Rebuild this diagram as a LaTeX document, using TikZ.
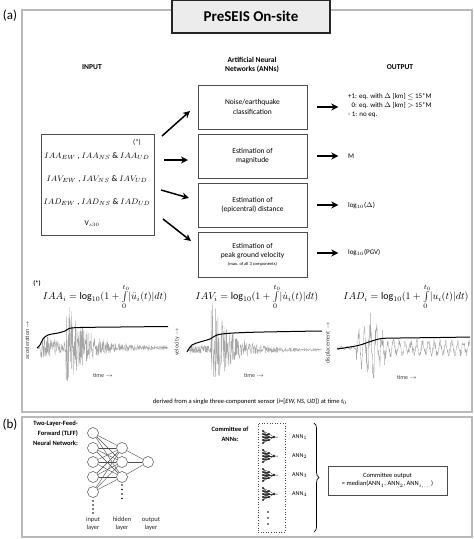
\documentclass[tikz,border=0pt]{standalone}
\usepackage{fontspec}
\setmainfont{Carlito}
\usetikzlibrary{arrows.meta,decorations.pathreplacing}
\begin{document}
\begin{tikzpicture}[x=1pt,y=-1pt,
  frame/.style={draw=gray!55, line width=1.6pt},
  annbox/.style={draw=gray!60!black, line width=0.6pt, minimum width=109pt, minimum height=44pt, align=center, inner sep=1pt, font=\fontsize{7.5}{9.5}\selectfont},
  bigarrow/.style={-{Stealth[length=7pt,width=7pt]}, line width=1.5pt},
  head/.style={font=\bfseries\fontsize{7.5}{9}\selectfont, align=center},
  outtxt/.style={anchor=west, align=left, font=\fontsize{7}{9}\selectfont, inner sep=0pt},
  formula/.style={font=\fontsize{10}{12}\selectfont, inner sep=0pt},
  axlab/.style={font=\rmfamily\fontsize{6}{7}\selectfont, text=gray!50!black, inner sep=0pt},
  wave/.style={draw=gray!70, line width=0.35pt},
  cum/.style={draw=black, line width=1pt},
  neuron/.style={circle, draw=gray!60!black, line width=0.5pt, minimum size=11pt, inner sep=0pt},
  syn/.style={draw=gray!60!black, line width=0.4pt},
  dotn/.style={circle, fill=black, minimum size=1.8pt, inner sep=0pt},
  small/.style={font=\fontsize{6.5}{8}\selectfont, align=center, text=gray!30!black},
  declare function={
    envA(\t)=1.2+(\t>40)*12*exp(-(\t-40)/25)+(\t>66)*38*exp(-(\t-66)/20);
    envV(\t)=1.0+(\t>190)*5*exp(-(\t-190)/30)+(\t>211)*45*exp(-(\t-211)/18);
    envD(\t)=1.5+(\t>356)*(6+26*exp(-((\t-371)/12)^2));
  }]
\useasboundingbox (0,0) rectangle (474,539);

% ---------- panel (a) ----------
\draw[frame] (22,10) rectangle (472,412);
\node[font=\fontsize{13}{14}\selectfont] (la) at (10,16) {(a)};
\node[draw=gray!30!black, line width=1.2pt, fill=gray!15, minimum width=158pt, minimum height=33pt, font=\bfseries\fontsize{15}{16}\selectfont] (title) at (251,16.5) {PreSEIS On-site};

\node[head] (hin) at (92,67) {INPUT};
\node[head] (hann) at (252,65) {Artificial Neural\\Networks (ANNs)};
\node[head] (hout) at (400,67) {OUTPUT};

\node[annbox] (b1) at (252.5,107) {Noise/earthquake\\classification};
\node[annbox] (b2) at (252.5,156) {Estimation of\\magnitude};
\node[annbox] (b3) at (252.5,205) {Estimation of\\(epicentral) distance};
\node[annbox, minimum height=45pt] (b4) at (252.5,254.5) {Estimation of\\peak ground velocity\\[-2pt]{\fontsize{4.5}{5}\selectfont (max. of all 3 components)}};

\node[draw=gray!60!black, line width=0.6pt, minimum width=113pt, minimum height=101pt] (in) at (97.5,184.5) {};
\node[font=\fontsize{7}{8}\selectfont] (star1) at (137,142) {(*)};
\node[font=\fontsize{8.5}{10}\selectfont] (r1) at (97,156) {$IAA_{EW}$ , $IAA_{NS}$ \& $IAA_{UD}$};
\node[font=\fontsize{8.5}{10}\selectfont] (r2) at (97,179) {$IAV_{EW}$ , $IAV_{NS}$ \& $IAV_{UD}$};
\node[font=\fontsize{8.5}{10}\selectfont] (r3) at (97,202) {$IAD_{EW}$ , $IAD_{NS}$ \& $IAD_{UD}$};
\node[font=\fontsize{7.5}{9}\selectfont] (r4) at (92,224) {V$_{s30}$};

\coordinate (s1) at (162,136); \coordinate (e1) at (190,111);
\coordinate (s2) at (164,160); \coordinate (e2) at (188,160);
\coordinate (s3) at (161,190); \coordinate (e3) at (189,198);
\coordinate (s4) at (163,219); \coordinate (e4) at (191,241);
\draw[bigarrow] (s1) -- (e1);
\draw[bigarrow] (s2) -- (e2);
\draw[bigarrow] (s3) -- (e3);
\draw[bigarrow] (s4) -- (e4);

\node[outtxt] (o1) at (348,106) {+1: eq. with $\Delta$ [km] $\leq$ 15*M\\\phantom{+}0: eq. with $\Delta$ [km] $>$ 15*M\\- 1: no eq.};
\node[outtxt] (o2) at (348,156) {M};
\node[outtxt] (o3) at (348,206) {log$_{10}$($\Delta$)};
\node[outtxt] (o4) at (348,253) {log$_{10}$(PGV)};
\draw[bigarrow] ([xshift=10pt]b1.east) -- ++(21,0);
\draw[bigarrow] ([xshift=10pt]b2.east) -- ++(21,0);
\draw[bigarrow] ([xshift=10pt]b3.east) -- ++(21,0);
\draw[bigarrow] ([xshift=10pt]b4.east |- o4) -- ++(21,0);

% formulas
\node[font=\fontsize{6.5}{7}\selectfont\bfseries] (star2) at (37,284) {(*)};
\node[formula] (fa) at (105,297) {$IAA_i=\log_{10}(1+\int\limits_0^{t_0}\!|\ddot u_i(t)|dt)$};
\node[formula] (fv) at (257,297) {$IAV_i=\log_{10}(1+\int\limits_0^{t_0}\!|\dot u_i(t)|dt)$};
\node[formula] (fd) at (406,297) {$IAD_i=\log_{10}(1+\int\limits_0^{t_0}\!|u_i(t)|dt)$};

% waveforms
\pgfmathsetseed{7}
\draw[wave] plot[domain=37:168, samples=420] (\x,{348+envA(\x)*(rand-0.12)});
\pgfmathsetseed{11}
\draw[wave] plot[domain=187:322, samples=420] (\x,{350+envV(\x)*(rand-0.1)});
\pgfmathsetseed{5}
\draw[wave] plot[domain=337:470, samples=400] (\x,{348+envD(\x)*(0.7*sin((\x-337)*62)+0.5*rand)});

\draw[cum] plot[smooth, tension=0.6] coordinates {(37,348) (40,345) (43,339) (48,335) (58,333) (65,331) (69,328.5) (80,327.5) (120,327) (168,326.5)};
\draw[cum] plot[smooth, tension=0.6] coordinates {(187,352) (192,345) (200,342) (210,339) (215,336) (222,334) (245,332.5) (290,331.5) (322,331)};
\draw[cum] plot[smooth, tension=0.6] coordinates {(337,349) (350,347) (360,345) (372,341) (382,338.5) (400,338) (440,337.5) (470,337)};

\node[axlab, rotate=90] (ya) at (27,340) {acceleration $\rightarrow$};
\node[axlab, rotate=90] (yv) at (177,342) {velocity $\rightarrow$};
\node[axlab, rotate=90] (yd) at (328,343) {displacement $\rightarrow$};
\node[axlab] (ta) at (103,375) {time $\rightarrow$};
\node[axlab] (tv) at (254,375) {time $\rightarrow$};
\node[axlab] (td) at (407,377) {time $\rightarrow$};

\node[font=\fontsize{6.5}{8}\selectfont] (cap) at (250,402) {derived from a single three-component sensor (\textit{i}=[\textit{EW, NS, UD}]) at time \textit{t}$_0$};

% ---------- panel (b) ----------
\draw[frame] (22,417) rectangle (472,537);
\node[font=\fontsize{13}{14}\selectfont] (lb) at (10,425) {(b)};

\node[anchor=north east, align=right, font=\bfseries\fontsize{6.5}{10}\selectfont, inner sep=0pt] (tlff) at (78,421) {Two-Layer-Feed-\\Forward (TLFF)\\Neural Network:};

\foreach \i/\y in {1/433,2/448,3/462,4/477,5/492} \node[neuron] (i\i) at (93,\y) {};
\foreach \i/\y in {1/448,2/462,3/477} \node[neuron] (h\i) at (122,\y) {};
\node[neuron] (o) at (148,462) {};
\foreach \i in {1,...,5} \foreach \j in {1,2,3} \draw[syn] (i\i) -- (h\j);
\foreach \j in {1,2,3} \draw[syn] (h\j) -- (o);
\foreach \y in {501,505,509,513} \node[dotn] at (93,\y) {};
\foreach \y in {485,489.5,494,498.5} \node[dotn] at (122,\y) {};
\node[small] (li) at (93,524) {input\\layer};
\node[small] (lh) at (122,524) {hidden\\layer};
\node[small] (lo) at (151,524) {output\\layer};

\node[align=center, font=\bfseries\fontsize{6.5}{10}\selectfont, inner sep=0pt] (com) at (230,434) {Committee of\\ANNs:};
\node[draw=gray!60!black, dotted, line width=0.6pt, minimum width=27pt, minimum height=109pt] (dbox) at (271.5,477.5) {};

\tikzset{mininet/.pic={
  \foreach \a in {-6,-3,0,3,6} \foreach \b in {-3,0,3} \draw[gray!40!black, line width=0.3pt] (-7,\a) -- (-1,\b);
  \foreach \b in {-3,0,3} \draw[gray!40!black, line width=0.3pt] (-1,\b) -- (4,0);
  \foreach \a in {-6,-3,0,3,6} \fill[gray!30!black] (-7,\a) circle (1.2pt);
  \foreach \b in {-3,0,3} \fill[gray!30!black] (-1,\b) circle (1.1pt);
  \draw[gray!30!black, line width=0.5pt] (4,0) circle (1pt) -- (8,0);
}}
\foreach \k/\y in {1/437,2/456,3/475,4/494} {
  \pic at (270,\y) {mininet};
  \node[anchor=west, font=\fontsize{6}{7}\selectfont, inner sep=0pt] (ann\k) at (292,\y) {ANN$_{\k}$};
}
\foreach \y in {512,518,524} \node[dotn] at (268,\y) {};

\coordinate (bt) at (314,423); \coordinate (bb) at (314,532);
\draw[decorate, decoration={brace, amplitude=5pt}, line width=0.7pt] (bt) -- (bb);

\node[draw=gray!60!black, line width=0.6pt, minimum width=119pt, minimum height=29pt, align=center, font=\fontsize{6.5}{8.5}\selectfont] (cout) at (387.5,480.5) {Committee output\\= median(ANN$_1$, ANN$_2$, ANN$_{i,\ldots}$)};
\end{tikzpicture}
\end{document}
